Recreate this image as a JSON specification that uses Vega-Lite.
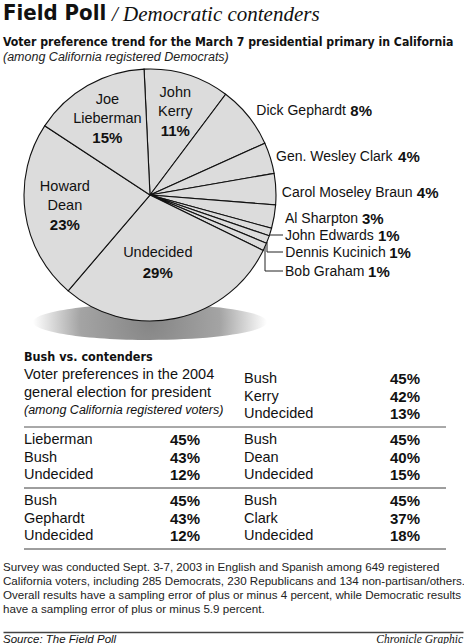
{
  "$schema": "https://vega.github.io/schema/vega-lite/v6.json",
  "padding": {"top": 1, "left": 0, "right": 0, "bottom": 0},
  "background": "white",
  "spacing": 10,
  "config": {
    "view": {"stroke": null},
    "font": "Liberation Sans",
    "text": {"color": "#111", "font": "Liberation Sans"}
  },
  "datasets": {
    "primary": [
      {"seq": 1, "name": "John Kerry", "share": 0.11},
      {"seq": 2, "name": "Dick Gephardt", "share": 0.08},
      {"seq": 3, "name": "Gen. Wesley Clark", "share": 0.04},
      {"seq": 4, "name": "Carol Moseley Braun", "share": 0.04},
      {"seq": 5, "name": "Al Sharpton", "share": 0.03},
      {"seq": 6, "name": "John Edwards", "share": 0.01},
      {"seq": 7, "name": "Dennis Kucinich", "share": 0.01},
      {"seq": 8, "name": "Bob Graham", "share": 0.01},
      {"seq": 9, "name": "Undecided", "share": 0.29},
      {"seq": 10, "name": "Howard Dean", "share": 0.23},
      {"seq": 11, "name": "Joe Lieberman", "share": 0.15}
    ],
    "matchups": [
      {"block": 1, "col": "right", "line": 0, "name": "Bush", "share": 0.45},
      {"block": 1, "col": "right", "line": 1, "name": "Kerry", "share": 0.42},
      {"block": 1, "col": "right", "line": 2, "name": "Undecided", "share": 0.13},
      {"block": 2, "col": "left", "line": 0, "name": "Lieberman", "share": 0.45},
      {"block": 2, "col": "left", "line": 1, "name": "Bush", "share": 0.43},
      {"block": 2, "col": "left", "line": 2, "name": "Undecided", "share": 0.12},
      {"block": 2, "col": "right", "line": 0, "name": "Bush", "share": 0.45},
      {"block": 2, "col": "right", "line": 1, "name": "Dean", "share": 0.40},
      {"block": 2, "col": "right", "line": 2, "name": "Undecided", "share": 0.15},
      {"block": 3, "col": "left", "line": 0, "name": "Bush", "share": 0.45},
      {"block": 3, "col": "left", "line": 1, "name": "Gephardt", "share": 0.43},
      {"block": 3, "col": "left", "line": 2, "name": "Undecided", "share": 0.12},
      {"block": 3, "col": "right", "line": 0, "name": "Bush", "share": 0.45},
      {"block": 3, "col": "right", "line": 1, "name": "Clark", "share": 0.37},
      {"block": 3, "col": "right", "line": 2, "name": "Undecided", "share": 0.18}
    ],
    "intro": [
      {"block": 1, "col": "left", "line": 0, "text": "Voter preferences in the 2004"},
      {"block": 1, "col": "left", "line": 1, "text": "general election for president"},
      {"block": 1, "col": "left", "line": 2, "text": "(among California registered voters)"}
    ],
    "footer": [
      {"side": "source", "text": "Source: The Field Poll"},
      {"side": "credit", "text": "Chronicle Graphic"}
    ]
  },
  "vconcat": [
    {
      "spacing": 0,
      "vconcat": [
        {
          "hconcat": [
            {
              "width": 1,
              "height": 3,
              "title": {"text": "Field Poll", "anchor": "start", "frame": "group", "font": "'DejaVu Sans Condensed', 'DejaVu Sans'", "fontWeight": "bold", "fontSize": 22, "color": "#111", "offset": 0, "dx": 3},
              "data": {"values": [{}]},
              "mark": {"type": "text"},
              "encoding": {"text": {"value": ""}}
            },
            {
              "width": 300,
              "height": 3,
              "title": {"text": "/ Democratic contenders", "anchor": "start", "frame": "group", "font": "Liberation Serif", "fontStyle": "italic", "fontWeight": "normal", "fontSize": 21, "color": "#111", "offset": 0},
              "data": {"values": [{}]},
              "mark": {"type": "text"},
              "encoding": {"text": {"value": ""}}
            }
          ],
          "spacing": 5
        },
        {
          "width": 300,
          "height": 258,
          "title": {
            "text": "Voter preference trend for the March 7 presidential primary in California",
            "subtitle": "(among California registered Democrats)",
            "anchor": "start",
            "frame": "group",
            "font": "'DejaVu Sans Condensed', 'DejaVu Sans'",
            "fontWeight": "bold",
            "fontSize": 12.2,
            "color": "#111",
            "subtitleFont": "Liberation Sans",
            "subtitleFontStyle": "italic",
            "subtitleFontSize": 12.5,
            "subtitleColor": "#222",
            "subtitlePadding": 2,
            "dx": 3,
            "offset": 3
          },
          "data": {"name": "primary"},
          "layer": [
            {
              "data": {"values": [{"shadow": 1}]},
              "mark": {
                "type": "point",
                "filled": true,
                "shape": "M-1,1.085 A1,0.154 0 1,0 1,1.085 A1,0.154 0 1,0 -1,1.085 Z",
                "size": 54756,
                "strokeWidth": 0,
                "opacity": 1,
                "color": {"gradient": "radial", "x1": 0.5, "y1": 0.5, "x2": 0.5, "y2": 0.5, "r1": 0, "r2": 0.5,
                  "stops": [{"offset": 0, "color": "#858585"}, {"offset": 0.6, "color": "#a4a4a4"}, {"offset": 1, "color": "#ffffff"}]}
              },
              "encoding": {}
            },
            {
              "mark": {"type": "arc", "outerRadius": 126, "fill": "#dcdcdc", "stroke": "#111", "strokeWidth": 1.1},
              "encoding": {
                "theta": {"field": "share", "type": "quantitative", "stack": true, "scale": {"range": [-0.047, 6.236]}},
                "order": {"field": "seq", "type": "quantitative"},
                "detail": {"field": "name", "type": "nominal"}
              }
            },
            {
              "data": {"values": [{"leaders": 1}]},
              "mark": {
                "type": "point",
                "filled": false,
                "shape": "M1.195,0.40 L1.33,0.40 M1.17,0.47 L1.17,0.57 L1.33,0.57 M1.15,0.515 L1.15,0.76 L1.33,0.76",
                "size": 40000,
                "stroke": "#222",
                "strokeWidth": 1,
                "opacity": 1
              },
              "encoding": {}
            },
            {
              "mark": {"type": "text", "radius": {"expr": "datum.seq == 1 || datum.seq >= 10 ? 86 : 0"}, "lineBreak": " ", "lineHeight": 19, "fontSize": 14.5, "align": "center", "baseline": "middle", "dy": -20},
              "encoding": {
                "theta": {"field": "share", "type": "quantitative", "stack": true},
                "order": {"field": "seq", "type": "quantitative"},
                "detail": {"field": "name", "type": "nominal"},
                "text": {"condition": {"test": "datum.seq == 1 || datum.seq >= 10", "field": "name", "type": "nominal"}, "value": ""}
              }
            },
            {
              "mark": {"type": "text", "radius": {"expr": "datum.seq == 1 || datum.seq >= 10 ? 86 : 0"}, "fontSize": 15, "fontWeight": "bold", "align": "center", "baseline": "middle", "dy": 18},
              "encoding": {
                "theta": {"field": "share", "type": "quantitative", "stack": true},
                "order": {"field": "seq", "type": "quantitative"},
                "detail": {"field": "name", "type": "nominal"},
                "text": {"condition": {"test": "datum.seq == 1 || datum.seq >= 10", "field": "share", "type": "quantitative", "format": ".0%"}, "value": ""}
              }
            },
            {
              "mark": {"type": "text", "radius": {"expr": "datum.seq == 9 ? 68 : 0"}, "fontSize": 14.5, "align": "center", "baseline": "middle", "dx": -6, "dy": -9},
              "encoding": {
                "theta": {"field": "share", "type": "quantitative", "stack": true},
                "order": {"field": "seq", "type": "quantitative"},
                "detail": {"field": "name", "type": "nominal"},
                "text": {"condition": {"test": "datum.seq == 9", "field": "name", "type": "nominal"}, "value": ""}
              }
            },
            {
              "mark": {"type": "text", "radius": {"expr": "datum.seq == 9 ? 68 : 0"}, "fontSize": 15, "fontWeight": "bold", "align": "center", "baseline": "middle", "dx": -6, "dy": 11},
              "encoding": {
                "theta": {"field": "share", "type": "quantitative", "stack": true},
                "order": {"field": "seq", "type": "quantitative"},
                "detail": {"field": "name", "type": "nominal"},
                "text": {"condition": {"test": "datum.seq == 9", "field": "share", "type": "quantitative", "format": ".0%"}, "value": ""}
              }
            },
            {
              "mark": {
                "type": "text", "radius": {"expr": "datum.seq >= 2 && datum.seq <= 8 ? 135 : 0"}, "fontSize": 14, "align": "left", "baseline": "middle",
                "dx": {"expr": "datum.seq == 2 ? 1 : datum.seq == 3 ? -3 : datum.seq == 4 ? -3 : datum.seq == 5 ? 2 : datum.seq == 6 ? 6 : datum.seq == 7 ? 9 : datum.seq == 8 ? 12 : 0"},
                "dy": {"expr": "datum.seq == 3 ? 2 : datum.seq == 4 ? 4 : datum.seq == 5 ? 1 : datum.seq == 6 ? 1 : datum.seq == 7 ? 10 : datum.seq == 8 ? 21 : 0"}
              },
              "encoding": {
                "theta": {"field": "share", "type": "quantitative", "stack": true},
                "order": {"field": "seq", "type": "quantitative"},
                "detail": {"field": "name", "type": "nominal"},
                "text": {"condition": {"test": "datum.seq >= 2 && datum.seq <= 8", "field": "name", "type": "nominal"}, "value": ""}
              }
            },
            {
              "mark": {
                "type": "text", "radius": {"expr": "datum.seq >= 2 && datum.seq <= 8 ? 135 : 0"}, "fontSize": 15, "fontWeight": "bold", "align": "left", "baseline": "middle",
                "dx": {"expr": "datum.seq == 2 ? 95 : datum.seq == 3 ? 119 : datum.seq == 4 ? 132 : datum.seq == 5 ? 79 : datum.seq == 6 ? 99 : datum.seq == 7 ? 113 : datum.seq == 8 ? 95 : 0"},
                "dy": {"expr": "datum.seq == 3 ? 2 : datum.seq == 4 ? 4 : datum.seq == 5 ? 1 : datum.seq == 6 ? 1 : datum.seq == 7 ? 10 : datum.seq == 8 ? 21 : 0"}
              },
              "encoding": {
                "theta": {"field": "share", "type": "quantitative", "stack": true},
                "order": {"field": "seq", "type": "quantitative"},
                "detail": {"field": "name", "type": "nominal"},
                "text": {"condition": {"test": "datum.seq >= 2 && datum.seq <= 8", "field": "share", "type": "quantitative", "format": ".0%"}, "value": ""}
              }
            }
          ]
        }
      ]
    },
    {
      "spacing": 12,
      "vconcat": [
        {
          "hconcat": [
            {
              "width": 1,
              "height": 1,
              "data": {"values": [{}]},
              "mark": {"type": "text"},
              "encoding": {"text": {"value": ""}}
            },
            {
              "width": 422,
              "height": 183,
              "title": {"text": "Bush vs. contenders", "anchor": "start", "frame": "group", "font": "'DejaVu Sans Condensed', 'DejaVu Sans'", "fontWeight": "bold", "fontSize": 12.5, "color": "#111", "offset": 3},
              "encoding": {
                "x": {"field": "col", "type": "nominal", "bandPosition": 0, "axis": null,
                  "scale": {"type": "band", "domain": ["left", "right"], "range": [0, 440], "paddingInner": 0, "paddingOuter": 0}},
                "y": {"field": "block", "type": "ordinal", "axis": null,
                  "scale": {"type": "band", "domain": [1, 2, 3], "paddingInner": 0, "paddingOuter": 0}},
                "yOffset": {"field": "line", "type": "ordinal",
                  "scale": {"type": "band", "domain": [0, 1, 2], "paddingInner": 0, "paddingOuter": 0.243}}
              },
              "layer": [
                {
                  "data": {"name": "matchups"},
                  "mark": {"type": "rule", "color": "#9c9c9c", "strokeWidth": 1},
                  "encoding": {
                    "x": null,
                    "yOffset": null,
                    "y": {"field": "block", "type": "ordinal", "bandPosition": 1, "axis": null,
                      "scale": {"type": "band", "domain": [1, 2, 3], "paddingInner": 0, "paddingOuter": 0}}
                  }
                },
                {
                  "data": {"name": "matchups"},
                  "mark": {"type": "text", "align": "left", "baseline": "middle", "fontSize": 14.5},
                  "encoding": {"text": {"field": "name", "type": "nominal"}}
                },
                {
                  "data": {"name": "matchups"},
                  "mark": {"type": "text", "align": "right", "baseline": "middle", "fontSize": 15, "fontWeight": "bold", "dx": 176},
                  "encoding": {"text": {"field": "share", "type": "quantitative", "format": ".0%"}}
                },
                {
                  "data": {"name": "intro"},
                  "transform": [{"filter": "datum.line < 2"}],
                  "mark": {"type": "text", "align": "left", "baseline": "middle", "fontSize": 14.5, "dy": -4},
                  "encoding": {"text": {"field": "text", "type": "nominal"}}
                },
                {
                  "data": {"name": "intro"},
                  "transform": [{"filter": "datum.line == 2"}],
                  "mark": {"type": "text", "align": "left", "baseline": "middle", "fontSize": 12.5, "fontStyle": "italic", "dy": -4},
                  "encoding": {"text": {"field": "text", "type": "nominal"}}
                }
              ]
            }
          ],
          "spacing": 22
        },
        {
          "width": 464,
          "height": 16,
          "title": {
            "text": [
              "Survey was conducted Sept. 3-7, 2003 in English and Spanish among 649 registered",
              "California voters, including 285 Democrats, 230 Republicans and 134 non-partisan/others.",
              "Overall results have a sampling error of plus or minus 4 percent, while Democratic results",
              "have a sampling error of plus or minus 5.9 percent."
            ],
            "anchor": "start",
            "frame": "group",
            "font": "Liberation Sans",
            "fontWeight": "normal",
            "fontSize": 11.6,
            "lineHeight": 14,
            "color": "#222",
            "dx": 3,
            "offset": 16
          },
          "data": {"name": "footer"},
          "encoding": {
            "x": {"field": "side", "type": "nominal",
              "scale": {"type": "point", "domain": ["source", "credit"], "range": [3, 463], "padding": 0},
              "axis": {"orient": "top", "domain": true, "domainColor": "#444", "domainWidth": 1.5, "ticks": false, "labels": false, "grid": false, "title": null}}
          },
          "layer": [
            {
              "transform": [{"filter": "datum.side == 'source'"}],
              "mark": {"type": "text", "align": "left", "baseline": "middle", "fontSize": 11.5, "fontStyle": "italic"},
              "encoding": {"text": {"field": "text", "type": "nominal"}}
            },
            {
              "transform": [{"filter": "datum.side == 'credit'"}],
              "mark": {"type": "text", "align": "right", "baseline": "middle", "fontSize": 11.5, "fontStyle": "italic", "font": "Liberation Serif"},
              "encoding": {"text": {"field": "text", "type": "nominal"}}
            }
          ]
        }
      ]
    }
  ]
}
